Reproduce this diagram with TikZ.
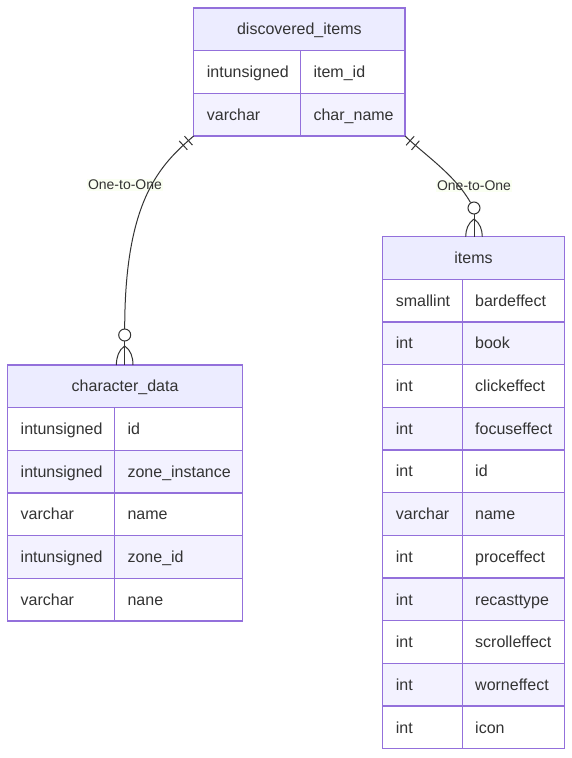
\documentclass[tikz,border=0pt]{standalone}
\usepackage{fontspec}
\setmainfont{Liberation Sans}
\usetikzlibrary{decorations.markings}
\definecolor{erborder}{HTML}{9370DB}
\definecolor{erhead}{HTML}{ECECFF}
\definecolor{eralt}{HTML}{F3F2FF}
\definecolor{ertext}{HTML}{333333}
\definecolor{lblbg}{RGB}{250,255,242}
\tikzset{
  cell/.style={draw=erborder, line width=1.3pt},
  celltext/.style={text=ertext, font=\fontsize{16}{19}\selectfont, inner sep=0pt, anchor=base west},
  headtext/.style={text=ertext, font=\fontsize{16}{19}\selectfont, inner sep=0pt, anchor=base},
  rel/.style={draw=ertext, line width=1pt},
  lbl/.style={font=\fontsize{14}{16}\selectfont, text=ertext, fill=lblbg, inner sep=1pt},
  onlyone/.style={postaction={decorate, decoration={markings,
      mark=at position 7pt with {\draw[rel] (0,-6pt) -- (0,6pt);},
      mark=at position 14pt with {\draw[rel] (0,-6pt) -- (0,6pt);}}}},
  zerocirc/.style={rel, fill=white}
}
\newcommand\ertable[7]{%
  \def\rh{42.67}%
  \path[cell, fill=erhead] (#2,#5) rectangle (#4,#5+\rh);
  \node[headtext] (#1-title) at ({(#2+#4)/2},#5+\rh/2+5.6) {#6};
  \foreach [count=\i] \t/\n in {#7} {
    \pgfmathsetmacro\ya{#5+\i*\rh}
    \pgfmathsetmacro\yb{\ya+\rh}
    \pgfmathtruncatemacro\odd{mod(\i,2)}
    \ifnum\odd=1 \def\rowfill{white}\else\def\rowfill{eralt}\fi
    \path[cell, fill=\rowfill] (#2,\ya) rectangle (#4,\yb);
    \draw[cell] (#3,\ya) -- (#3,\yb);
    \node[celltext] (#1-t\i) at (#2+13,\ya+\rh/2+5.6) {\t};
    \node[celltext] (#1-n\i) at (#3+12.7,\ya+\rh/2+5.6) {\n};
  }
}
\newcommand\crowfoot[3]{% x, circle center y, bottom y
  \draw[rel] (#1,#2+6) -- (#1,#3);
  \draw[rel] (#1,#2+11) .. controls (#1-6,#2+15) and (#1-8.3,#2+22) .. (#1-8.3,#3);
  \draw[rel] (#1,#2+11) .. controls (#1+6,#2+15) and (#1+8.3,#2+22) .. (#1+8.3,#3);
  \draw[zerocirc] (#1,#2) circle (6);
}
\begin{document}
\begin{tikzpicture}[x=1pt,y=-1pt]
\useasboundingbox (0,0) rectangle (572,758);
\fill[white] (0,0) rectangle (572,758);

\ertable{di}{193.7}{300.7}{405}{8}{discovered\_items}{intunsigned/item\_id, varchar/char\_name}
\ertable{cd}{7.5}{114.7}{242.7}{365}{character\_data}{intunsigned/id, intunsigned/zone\_instance, varchar/name, intunsigned/zone\_id, varchar/nane}
\ertable{it}{382.7}{462.3}{564.3}{236.7}{items}{smallint/bardeffect, int/book, int/clickeffect, int/focuseffect, int/id, varchar/name, int/proceffect, int/recasttype, int/scrolleffect, int/worneffect, int/icon}

\node[lbl] (lblL) at (125,185) {One-to-One};
\node[lbl] (lblR) at (474,186) {One-to-One};

\coordinate (diBL) at (193.7,136);
\coordinate (diBR) at (405,136);
\coordinate (cdIn) at (124.7,329);
\coordinate (itIn) at (470.5,202.5);

\draw[rel, onlyone] (diBL) .. controls (160,165) and (124.7,200) .. (cdIn);
\draw[rel, onlyone] (diBR) .. controls (425,155) and (455,175) .. (itIn);

\crowfoot{124.7}{335}{365}
\crowfoot{474}{208}{236.7}
\end{tikzpicture}
\end{document}
